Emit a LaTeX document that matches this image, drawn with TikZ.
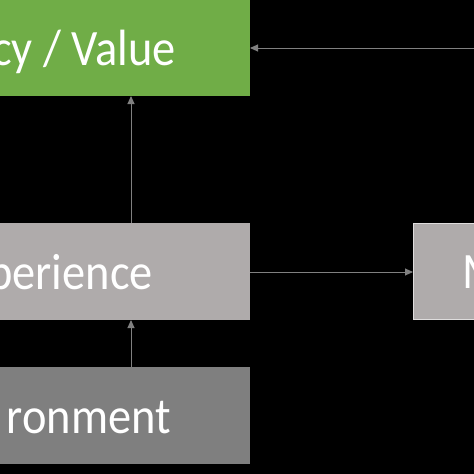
\documentclass[tikz,border=0pt]{standalone}
\usepackage{fontspec}
\setmainfont{Carlito}
\usetikzlibrary{arrows.meta}
\definecolor{effgreen}{HTML}{70AD47}
\definecolor{expgray}{HTML}{AFABAB}
\definecolor{envgray}{HTML}{7F7F7F}
\definecolor{linkgray}{HTML}{808080}
\newcommand{\sqz}[1]{\scalebox{0.91}[1]{#1}}
\tikzset{
  x=1pt,y=-1pt,
  boxshape/.style={rectangle, inner sep=0pt, outer sep=0pt},
  boxtext/.style={text=white, inner sep=0pt, font=\fontsize{51}{60}\selectfont},
  link/.style={draw=linkgray, line width=0.9pt, -{Triangle[length=8pt,width=7pt]}}
}
\begin{document}
\begin{tikzpicture}
\useasboundingbox (0,0) rectangle (474,474);
\fill[black] (0,0) rectangle (474,474);
\clip (0,0) rectangle (474,474);
% boxes
\node[boxshape, fill=effgreen, minimum width=280pt, minimum height=106pt] (eff) at (110,43) {};
\node[boxshape, fill=expgray, minimum width=270pt, minimum height=97pt] (exp) at (115,271.5) {};
\node[boxshape, fill=envgray, minimum width=270pt, minimum height=97pt] (env) at (115,415.5) {};
\node[boxshape, fill=expgray, draw=white!60!expgray, line width=0.6pt, minimum width=100pt, minimum height=96pt] (mot) at (463,271) {};
% texts
\node[boxtext, anchor=base east] (efftxt) at (176,65) {\sqz{cy / Value}};
\node[boxtext, anchor=base east] (exptxt) at (153,289) {\sqz{perience}};
\node[boxtext, anchor=base east] (envtxt) at (171,433) {\sqz{ronment}};
\node[boxtext, anchor=base west] (mottxt) at (462,288) {\sqz{M}};
% connectors
\coordinate (ax) at (131,0);
\coordinate (rin) at (480,48);
\draw[link] (exp.north -| ax) -- (eff.south -| ax);
\draw[link] (env.north -| ax) -- (exp.south -| ax);
\draw[link] (exp.east |- 0,272) -- (mot.west |- 0,272);
\draw[link] (rin) -- (eff.east |- rin);
\end{tikzpicture}
\end{document}
